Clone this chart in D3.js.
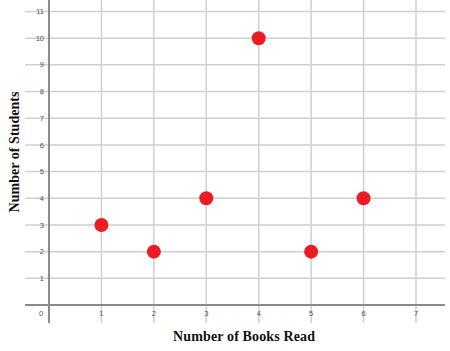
<!DOCTYPE html>
<html lang="en">
<head>
<meta charset="UTF-8">
<title>Books Read</title>
<script src="https://d3js.org/d3.v7.min.js"></script>
<style>
  body { margin: 0; background: #fff; }
</style>
</head>
<body>
<script>
  const booksRead = [1, 2, 3, 4, 5, 6]
  const students = [3, 2, 4, 10, 2, 4]
  const xTicks = [0, 1, 2, 3, 4, 5, 6, 7]
  const yTicks = [1, 2, 3, 4, 5, 6, 7, 8, 9, 10, 11]

  const width = 450
  const height = 351

  const x = d3.scaleLinear().domain([0, 7]).range([49, 416])
  const y = d3.scaleLinear().domain([0, 11]).range([305, 11.5])

  const svg = d3.select('body')
    .append('svg')
    .attr('width', width)
    .attr('height', height)

  // vertical grid lines
  svg.append('g')
    .selectAll('line')
    .data(xTicks.filter(d => d > 0))
    .enter()
    .append('line')
    .attr('x1', d => x(d))
    .attr('x2', d => x(d))
    .attr('y1', 0)
    .attr('y2', 323)
    .attr('stroke', '#cfcfcf')
    .attr('stroke-width', 1.5)

  // horizontal grid lines
  svg.append('g')
    .selectAll('line')
    .data(yTicks)
    .enter()
    .append('line')
    .attr('x1', 25)
    .attr('x2', 445)
    .attr('y1', d => y(d))
    .attr('y2', d => y(d))
    .attr('stroke', '#cfcfcf')
    .attr('stroke-width', 1.5)

  // axes
  svg.append('line')
    .attr('x1', 25).attr('x2', 445)
    .attr('y1', y(0)).attr('y2', y(0))
    .attr('stroke', '#8a8a8a')
    .attr('stroke-width', 2)

  svg.append('line')
    .attr('x1', x(0)).attr('x2', x(0))
    .attr('y1', 0).attr('y2', 323)
    .attr('stroke', '#8a8a8a')
    .attr('stroke-width', 2)

  // tick labels
  svg.append('g')
    .selectAll('text')
    .data(yTicks)
    .enter()
    .append('text')
    .attr('x', 44)
    .attr('y', d => y(d))
    .attr('dy', '0.35em')
    .attr('text-anchor', 'end')
    .attr('font-family', 'Arial, Liberation Sans, sans-serif')
    .attr('font-size', 7.5)
    .attr('fill', '#555')
    .text(d => d)

  svg.append('g')
    .selectAll('text')
    .data(xTicks)
    .enter()
    .append('text')
    .attr('x', d => d === 0 ? 41 : x(d))
    .attr('y', 313)
    .attr('dy', '0.35em')
    .attr('text-anchor', 'middle')
    .attr('font-family', 'Arial, Liberation Sans, sans-serif')
    .attr('font-size', 7.5)
    .attr('fill', '#555')
    .text(d => d)

  // points
  svg.append('g')
    .selectAll('circle')
    .data(booksRead)
    .enter()
    .append('circle')
    .attr('cx', d => x(d))
    .attr('cy', (d, i) => y(students[i]))
    .attr('r', 7)
    .attr('fill', '#ed1c24')

  // titles
  svg.append('text')
    .attr('x', 244)
    .attr('y', 341)
    .attr('text-anchor', 'middle')
    .attr('font-family', 'Liberation Serif, DejaVu Serif, serif')
    .attr('font-weight', 'bold')
    .attr('font-size', 14)
    .attr('textLength', 142)
    .attr('fill', '#111')
    .text('Number of Books Read')

  svg.append('text')
    .attr('transform', 'translate(19,152) rotate(-90)')
    .attr('text-anchor', 'middle')
    .attr('font-family', 'Liberation Serif, DejaVu Serif, serif')
    .attr('font-weight', 'bold')
    .attr('font-size', 14)
    .attr('textLength', 121)
    .attr('fill', '#111')
    .text('Number of Students')
</script>
</body>
</html>
